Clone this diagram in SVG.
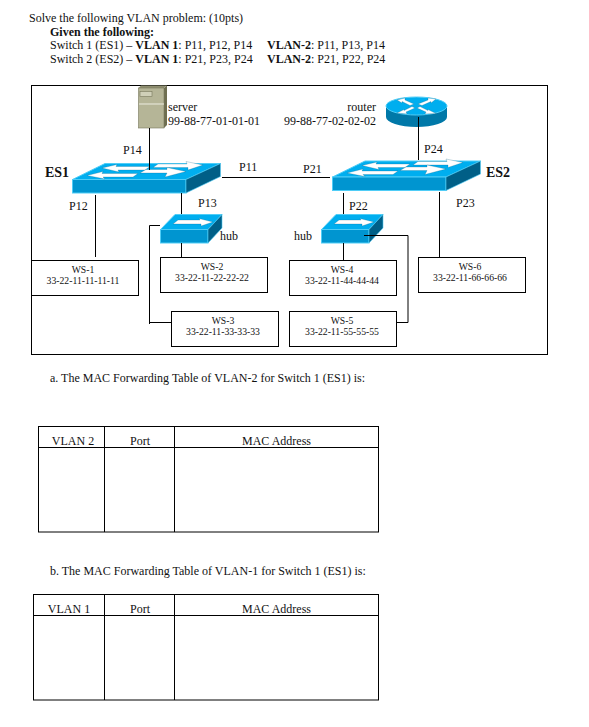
<svg xmlns="http://www.w3.org/2000/svg" xmlns:xlink="http://www.w3.org/1999/xlink" width="589" height="727" viewBox="0 0 589 727">
<style>
text{font-family:"Liberation Serif","Times New Roman",serif;font-size:12px;fill:#111}
.m{text-anchor:middle}
.s{font-size:9.7px}
.b{font-weight:bold}
.es{font-size:14px;font-weight:bold}
.box,.tb{fill:#fff;stroke:#000;stroke-width:1}
.ln{fill:none;stroke:#000;stroke-width:1}
.top{fill:#00aeef;stroke:#4fcdf7;stroke-width:1}
.front{fill:#0095d0;stroke:#4fcdf7;stroke-width:1}
.side{fill:#005f87;stroke:#4fcdf7;stroke-width:.6}
.ar{fill:#fff;stroke:#0a5f80;stroke-width:.25}
</style>
<defs>
<g id="switch">
<polygon class="top" points="72.500,179.500 105,163.500 220.500,163.500 186,179.500"/>
<rect class="front" x="72.500" y="179.500" width="113.500" height="13.500"/>
<polygon class="side" points="186,179.500 220.500,163.500 220.500,176.500 186,193"/>
<polygon class="ar" points="153,167.500 158,164 187,164 186,161.500 203,165 188,170 188,167.500"/>
<polygon class="ar" points="102,168 117,164.500 116,166.500 150,166.500 145,170 118,170 119,172"/>
<polygon class="ar" points="87,175.500 103,171.500 102,173.500 138,173.500 133,177 103,177 105,179"/>
<polygon class="ar" points="140,173 146,169.500 167,169.500 167,167.500 186,171.500 165,177 167,173"/>
</g>
<g id="hubicon">
<polygon class="top" points="160.500,229.500 175,214.500 222,214.500 208,229.500"/>
<rect class="front" x="160.500" y="229.500" width="47.500" height="13.500"/>
<polygon class="side" points="208,229.500 222,214.500 222,228 208,243"/>
<polygon class="ar" points="173,224 178,220 200,220 199,218.500 213,222 201,226 201,224"/>
</g>
</defs>

<g id="heading">
<text x="29" y="22">Solve the following VLAN problem: (10pts)</text>
<text x="50" y="35.500" class="b">Given the following:</text>
<text x="50" y="48.500">Switch 1 (ES1) – <tspan class="b">VLAN 1</tspan>: P11, P12, P14</text>
<text x="267" y="48.500"><tspan class="b">VLAN-2</tspan>: P11, P13, P14</text>
<text x="50" y="62.500">Switch 2 (ES2) – <tspan class="b">VLAN 1</tspan>: P21, P23, P24</text>
<text x="267" y="62.500"><tspan class="b">VLAN-2</tspan>: P21, P22, P24</text>
</g>

<rect id="frame" x="31.500" y="85.500" width="516" height="269" fill="#fff" stroke="#000"/>

<g id="server">
<polygon points="164,88 167,85.500 167,125 164,128" fill="#6e6e50"/>
<polygon points="138.500,88 141,85.500 167,85.500 164,88" fill="#8e8e70"/>
<rect x="138.500" y="88" width="25.500" height="40" fill="#b5b597" stroke="#77775a" stroke-width=".6"/>
<rect x="140" y="91.500" width="12" height="5" fill="#d0d0b8" stroke="#77775a" stroke-width=".6"/>
<path d="M139 104H164" stroke="#ecece0" stroke-width="1"/>
<text x="168" y="111">server</text>
<text x="168" y="125">99-88-77-01-01-01</text>
</g>

<g id="router">
<path d="M386 106V117A30.500 10 0 0 0 447 117V106Z" fill="#0078a8"/>
<ellipse cx="416.500" cy="106" rx="30.500" ry="9" fill="#00aeef" stroke="#4fcdf7"/>
<polygon class="ar" points="397,100 405,98 405,100 414,104 410,105.500 402,101.500 402,103"/>
<polygon class="ar" points="436,99 428,98 428,100 418,104 422,105.500 431,101.500 431,103"/>
<polygon class="ar" points="397,113 404,109.500 404,110.500 412,106.500 415,108 406,112 407,114"/>
<polygon class="ar" points="436,113.500 428,109.500 428,110.500 420,106.500 417,108 426,112 425,114"/>
<text x="376" y="111" text-anchor="end">router</text>
<text x="376" y="125" text-anchor="end">99-88-77-02-02-02</text>
</g>

<g id="es1">
<use xlink:href="#switch" href="#switch"/>
<text x="45" y="177" class="es">ES1</text>
<text x="123" y="154">P14</text>
<text x="239" y="171">P11</text>
<text x="69" y="210">P12</text>
<text x="198" y="207">P13</text>
</g>

<g id="es2">
<use xlink:href="#switch" href="#switch" transform="translate(260,-2.500)"/>
<text x="486" y="177" class="es">ES2</text>
<text x="424" y="153">P24</text>
<text x="303" y="173">P21</text>
<text x="349" y="210">P22</text>
<text x="456" y="207">P23</text>
</g>

<g id="hub1">
<use xlink:href="#hubicon" href="#hubicon"/>
<text x="220" y="240">hub</text>
</g>

<g id="hub2">
<use xlink:href="#hubicon" href="#hubicon" transform="translate(161,0)"/>
<text x="294" y="240">hub</text>
</g>

<g id="ws1"><rect class="box" x="31.500" y="260.500" width="107" height="35"/><text class="s m" x="83" y="272.500">WS-1</text><text class="s m" x="83" y="284">33-22-11-11-11-11</text></g>
<g id="ws2"><rect class="box" x="160.500" y="257.500" width="107" height="35"/><text class="s m" x="212" y="270">WS-2</text><text class="s m" x="212" y="281">33-22-11-22-22-22</text></g>
<g id="ws3"><rect class="box" x="171.500" y="311.500" width="107" height="35"/><text class="s m" x="223" y="323.500">WS-3</text><text class="s m" x="223" y="334.500">33-22-11-33-33-33</text></g>
<g id="ws4"><rect class="box" x="289.500" y="260.500" width="107" height="35"/><text class="s m" x="342" y="273">WS-4</text><text class="s m" x="342" y="284">33-22-11-44-44-44</text></g>
<g id="ws5"><rect class="box" x="289.500" y="311.500" width="107" height="35"/><text class="s m" x="342" y="323.500">WS-5</text><text class="s m" x="342" y="334.500">33-22-11-55-55-55</text></g>
<g id="ws6"><rect class="box" x="418.500" y="257.500" width="107" height="35"/><text class="s m" x="470" y="270">WS-6</text><text class="s m" x="470" y="281">33-22-11-66-66-66</text></g>

<g id="connectors">
<path class="ln" d="M149.500 128V170"/>
<path class="ln" d="M95.500 195V257"/>
<path class="ln" d="M181.500 193V214"/>
<path class="ln" d="M181.500 243V257"/>
<path class="ln" d="M160 225.500H149.500V324M149.500 322.500H171"/>
<path class="ln" d="M222 177.500H330"/>
<path class="ln" d="M418.500 117V160"/>
<path class="ln" d="M343.500 193V214"/>
<path class="ln" d="M343.500 243V260"/>
<path class="ln" d="M439.500 192V257"/>
<path class="ln" d="M364 235.500H408V322.500H397"/>
</g>

<g id="table-a">
<text x="50" y="382">a. The MAC Forwarding Table of VLAN-2 for Switch 1 (ES1) is:</text>
<rect class="tb" x="38.500" y="426.500" width="340" height="105.500"/>
<path class="ln" d="M38.500 447.500H378.500M104.500 426.500V532M174.500 426.500V532"/>
<text class="m" x="73" y="445">VLAN 2</text>
<text class="m" x="140" y="445">Port</text>
<text class="m" x="276.500" y="445">MAC Address</text>
</g>

<g id="table-b">
<text x="50" y="575">b. The MAC Forwarding Table of VLAN-1 for Switch 1 (ES1) is:</text>
<rect class="tb" x="33.500" y="594.500" width="345" height="105.500"/>
<path class="ln" d="M33.500 615.500H378.500M104.500 594.500V700M174.500 594.500V700"/>
<text class="m" x="69" y="613">VLAN 1</text>
<text class="m" x="140" y="613">Port</text>
<text class="m" x="276.500" y="613">MAC Address</text>
</g>
</svg>
